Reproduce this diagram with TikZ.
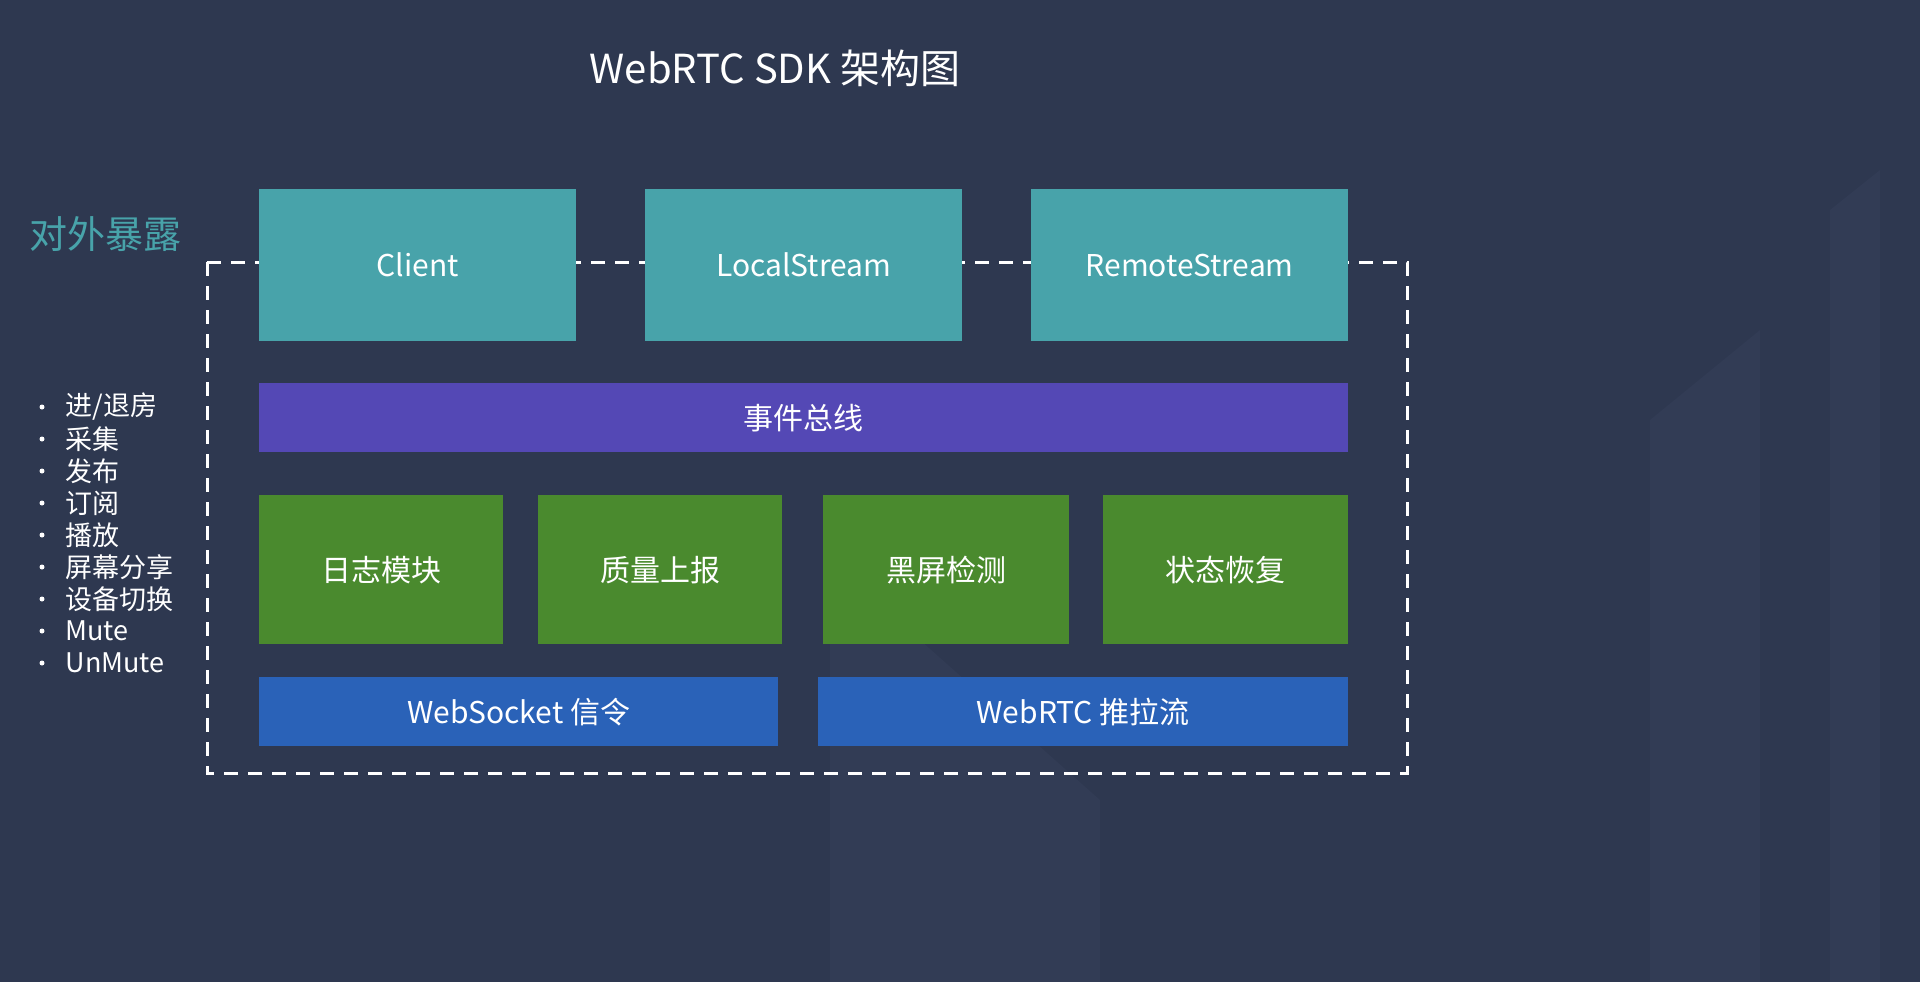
\documentclass[tikz,border=0pt]{standalone}
\usepackage{fontspec}
\setmainfont{Noto Sans CJK SC}
\definecolor{bgnavy}{HTML}{2E3850}
\definecolor{stripe}{HTML}{323C55}
\definecolor{apiteal}{HTML}{48A3AA}
\definecolor{buspurple}{HTML}{5448B5}
\definecolor{modgreen}{HTML}{4A8A2E}
\definecolor{netblue}{HTML}{2A62B8}
\tikzset{
  box/.style={anchor=north west,inner sep=0pt,text=white,font=\fontsize{30}{36}\selectfont},
  api/.style={box,fill=apiteal,minimum width=317pt,minimum height=152pt},
  item/.style={anchor=west,text=white,font=\fontsize{27}{32}\selectfont}
}
\begin{document}
\begin{tikzpicture}[x=1pt,y=-1pt]
\fill[bgnavy] (0,0) rectangle (1920,982);
% faint background stripes
\fill[stripe] (1650,982) -- (1650,420) -- (1760,330) -- (1760,982) -- cycle;
\fill[stripe] (1830,982) -- (1830,210) -- (1880,170) -- (1880,982) -- cycle;
\fill[stripe] (830,982) -- (830,560) -- (1100,800) -- (1100,982) -- cycle;
\useasboundingbox (0,0) rectangle (1920,982);
\node[text=white,font=\fontsize{40}{48}\selectfont] (title) at (775,68) {WebRTC SDK 架构图};
\draw[white,line width=3pt,dash pattern=on 14pt off 10pt] (207,262) rectangle (1407,773);
\node[api] (client) at (259,189) {Client};
\node[api] (local) at (645,189) {LocalStream};
\node[api] (remote) at (1031,189) {RemoteStream};
\node[box,fill=buspurple,minimum width=1089pt,minimum height=69pt] (bus) at (259,383) {事件总线};
\node[box,fill=modgreen,minimum width=244pt,minimum height=149pt] (log) at (259,495) {日志模块};
\node[box,fill=modgreen,minimum width=244pt,minimum height=149pt] (quality) at (538,495) {质量上报};
\node[box,fill=modgreen,minimum width=246pt,minimum height=149pt] (black) at (823,495) {黑屏检测};
\node[box,fill=modgreen,minimum width=245pt,minimum height=149pt] (recover) at (1103,495) {状态恢复};
\node[box,fill=netblue,minimum width=519pt,minimum height=69pt] (ws) at (259,677) {WebSocket 信令};
\node[box,fill=netblue,minimum width=530pt,minimum height=69pt] (rtc) at (818,677) {WebRTC 推拉流};
\node[text=apiteal,font=\fontsize{38}{46}\selectfont] (expose) at (105,234) {对外暴露};
\foreach \t [count=\i] in {进/退房,采集,发布,订阅,播放,屏幕分享,设备切换,Mute,UnMute} {
  \fill[white] (42,{375+32*\i}) circle (2.5pt);
  \node[item] (f\i) at (62,{375+32*\i}) {\t};
}
\end{tikzpicture}
\end{document}
